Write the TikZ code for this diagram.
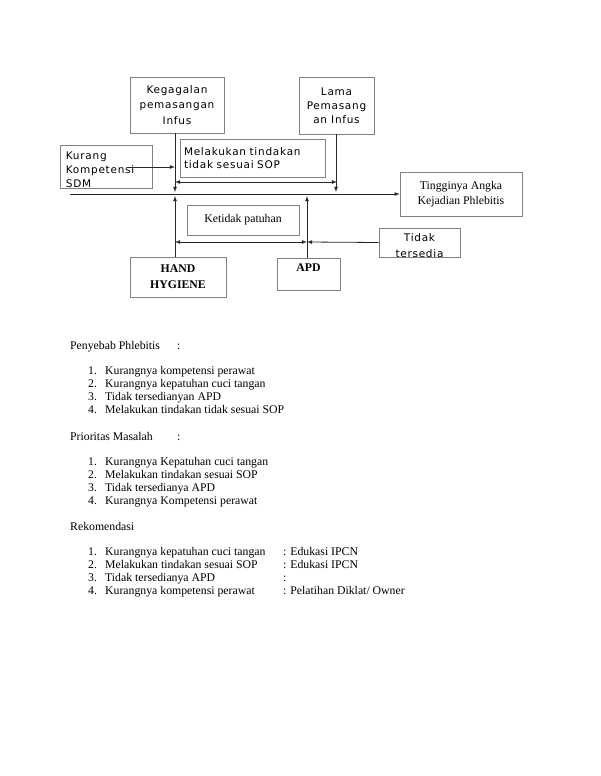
\documentclass[tikz,border=0pt]{standalone}
\usepackage{fontspec}
\setmainfont{Liberation Serif}
\newfontfamily\diagsans[LetterSpace=7]{DejaVu Sans}
\usepackage{xcolor}
\usepackage{tikz}

\newcommand{\numbox}[1]{\makebox[17pt][l]{#1}}

\begin{document}
\begin{tikzpicture}[x=1pt,y=-1pt]
			\tikzstyle{every node}=[font=\fontsize{11.76}{13.2}\selectfont];
			\tikzstyle{box}=[draw=black!50, line width=0.6pt, inner sep=0pt];
			\tikzstyle{sans}=[font=\diagsans\fontsize{10.5}{15.5}\selectfont];
			\tikzstyle{line}=[draw=black!85, line width=0.8pt];
			\tikzstyle{txt}=[anchor=base west, inner sep=0pt];
			\useasboundingbox (0,0) rectangle (600,776);
			
			%Top boxes
			\node[box, sans, minimum width=94pt, minimum height=56pt, align=center] (gagal) at (177,105) {Kegagalan\\pemasangan\\Infus};
			\node[box, font=\diagsans\fontsize{10.5}{14}\selectfont, minimum width=75pt, minimum height=57pt, align=center] (lama) at (336.5,105.5) {Lama\\Pemasang\\an Infus};
			\node[box, font=\diagsans\fontsize{10.5}{13.5}\selectfont, minimum width=145pt, minimum height=38pt, text width=137pt, align=left] (sop) at (252.5,158) {Melakukan tindakan\\tidak sesuai SOP};
			
			%Left box, text cut by the frame
			\node[box, minimum width=92pt, minimum height=43pt] (kurang) at (106,166.5) {};
			\begin{scope}
			\clip (kurang.south west) rectangle (kurang.north east);
			\node[font=\diagsans\fontsize{10.5}{14}\selectfont, anchor=north west, align=left, inner sep=0pt] (kurangtext) at ([xshift=6pt,yshift=-6.5pt]kurang.north west) {Kurang\\Kompetensi\\SDM};
			\end{scope}
			
			%Result
			\node[box, minimum width=122pt, minimum height=44pt, align=center] (tinggi) at (461,194) {Tingginya Angka\\[2pt]Kejadian Phlebitis};
			
			%Lower boxes
			\node[box, minimum width=112pt, minimum height=30pt] (patuh) at (243,220) {Ketidak patuhan};
			\node[box, minimum width=81pt, minimum height=29pt] (tidak) at (419.5,242.5) {};
			\begin{scope}
			\clip (tidak.south west) rectangle (tidak.north east);
			\node[font=\diagsans\fontsize{10.5}{15.5}\selectfont, anchor=north, align=center, inner sep=0pt] (tidaktext) at ([yshift=-6pt]tidak.north) {Tidak\\tersedia};
			\end{scope}
			\node[box, font=\bfseries\fontsize{11.76}{16}\selectfont, minimum width=96pt, minimum height=40pt, align=center] (hand) at (178,277) {HAND\\HYGIENE};
			\node[box, font=\bfseries\fontsize{11.76}{13.2}\selectfont, minimum width=63pt, minimum height=32pt, anchor=north, text depth=14pt] (apd) at (308.5,258) {APD};
			
			%Junctions
			\coordinate (start) at (70,194);
			\coordinate (jg) at (175,192);
			\coordinate (jl) at (336,192);
			\coordinate (jh) at (175,196);
			\coordinate (ja) at (307,196);
			\coordinate (ks) at (175,167);
			\coordinate (sl) at (175,182);
			\coordinate (sr) at (337,182);
			\coordinate (pl) at (175,242);
			\coordinate (pr) at (307,242);
			
			%Lines
			\draw[line, -latex] (gagal.south -| jg) -- (jg);
			\draw[line, -latex] (lama.south -| jl) -- (jl);
			\draw[line, -latex] ([xshift=-24pt]kurang.east |- ks) -- (ks);
			\draw[line, latex-latex] (sl) -- (sr);
			\draw[line, -latex] (start) -- (tinggi.west);
			\draw[line, -latex] (hand.north -| jh) -- (jh);
			\draw[line, -latex] (apd.north -| ja) -- (ja);
			\draw[line, latex-latex] (pl) -- (pr);
			\draw[line, -latex] (tidak.west) -- (pr);
			
			%Penyebab
			\node[txt] (penyebab) at (70,349) {Penyebab Phlebitis};
			\node[txt] (penyebabcolon) at (177,349) {:};
			\node[txt] (p1) at (88,374) {\numbox{1.}Kurangnya kompetensi perawat};
			\node[txt] (p2) at (88,387) {\numbox{2.}Kurangnya kepatuhan cuci tangan};
			\node[txt] (p3) at (88,400) {\numbox{3.}Tidak tersedianyan APD};
			\node[txt] (p4) at (88,413) {\numbox{4.}Melakukan tindakan tidak sesuai SOP};
			
			%Prioritas
			\node[txt] (prioritas) at (70,440) {Prioritas Masalah};
			\node[txt] (prioritascolon) at (177,440) {:};
			\node[txt] (q1) at (88,465) {\numbox{1.}Kurangnya Kepatuhan cuci tangan};
			\node[txt] (q2) at (88,478) {\numbox{2.}Melakukan tindakan sesuai SOP};
			\node[txt] (q3) at (88,491) {\numbox{3.}Tidak tersedianya APD};
			\node[txt] (q4) at (88,504) {\numbox{4.}Kurangnya Kompetensi perawat};
			
			%Rekomendasi
			\node[txt] (rekom) at (70,530) {Rekomendasi};
			\node[txt] (r1) at (88,555) {\numbox{1.}Kurangnya kepatuhan cuci tangan};
			\node[txt] (r2) at (88,568) {\numbox{2.}Melakukan tindakan sesuai SOP};
			\node[txt] (r3) at (88,581) {\numbox{3.}Tidak tersedianya APD};
			\node[txt] (r4) at (88,594) {\numbox{4.}Kurangnya kompetensi perawat};
			\node[txt] (s1) at (283,555) {: Edukasi IPCN};
			\node[txt] (s2) at (283,568) {: Edukasi IPCN};
			\node[txt] (s3) at (283,581) {:};
			\node[txt] (s4) at (283,594) {: Pelatihan Diklat/ Owner};
			\end{tikzpicture}
\end{document}
